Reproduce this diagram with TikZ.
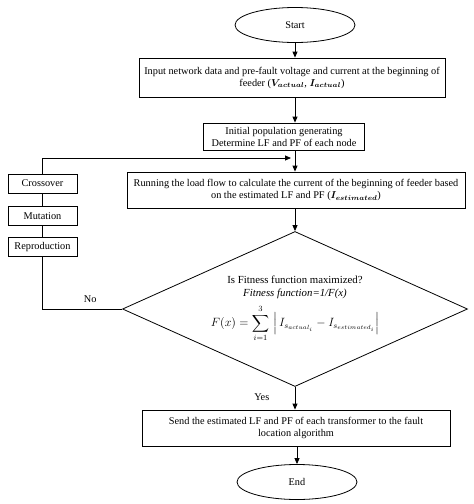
\documentclass[tikz,border=0pt]{standalone}
\usepackage{amsmath}
\usepackage{bm}
\usepackage{fontspec}
\setmainfont{Liberation Serif}
\usepackage{tikz}
\usetikzlibrary{shapes.geometric, arrows.meta, positioning, calc}

\tikzset{
  procbox/.style={draw, line width=0.8pt, align=center, font=\fontsize{10.3}{12}\selectfont, inner sep=2pt},
  termnode/.style={draw, ellipse, line width=0.8pt, minimum width=120pt, minimum height=35pt, font=\fontsize{10.3}{12}\selectfont},
  gabox/.style={procbox, minimum width=69pt, minimum height=19pt},
  decnode/.style={draw, diamond, line width=0.8pt, aspect=2.2, inner sep=0pt, minimum width=345pt, minimum height=155pt, align=center, font=\fontsize{10.8}{13}\selectfont},
  arr/.style={-{Triangle[length=6pt, width=5pt]}, line width=0.8pt},
  link/.style={line width=0.8pt}
}

\begin{document}
\begin{tikzpicture}[x=1pt, y=1pt]
    \useasboundingbox (0,0) rectangle (474,-504);

    % main column
    \node[termnode] (start) at (295,-25) {Start};
    \node[procbox, minimum width=306pt, minimum height=39pt] (input) at (292,-77.5)
      {Input network data and pre-fault voltage and current at the beginning of\\
       feeder ($\bm{V_{actual}}$, $\bm{I_{actual}}$)};
    \node[procbox, minimum width=161pt, minimum height=27pt] (init) at (284,-136.5)
      {Initial population generating\\ Determine LF and PF of each node};
    \node[procbox, minimum width=338pt, minimum height=36pt] (run) at (296,-190)
      {Running the load flow to calculate the current of the beginning of feeder based\\
       on the estimated LF and PF ($\bm{I_{estimated}}$)};
    \node[decnode] (dec) at (295,-309)
      {Is Fitness function maximized?\\
       \textit{Fitness function=1/F(x)}\\[5pt]
       {\fontsize{12}{14}\selectfont $F(x)=\displaystyle\sum_{i=1}^{3}\,\left|\,I_{s_{actual_i}}-I_{s_{estimated_i}}\right|$}};
    \node[procbox, minimum width=308pt, minimum height=36pt] (send) at (296,-428)
      {Send the estimated LF and PF of each transformer to the fault\\ location algorithm};
    \node[termnode] (end) at (297,-482) {End};

    % genetic operators
    \node[gabox] (cross) at (42.5,-183.5) {Crossover};
    \node[gabox] (mut) at (42.5,-216) {Mutation};
    \node[gabox] (repro) at (42.5,-247) {Reproduction};
    \coordinate (merge) at (295,-158);

    \draw[arr] (start) -- (start |- input.north);
    \draw[arr] (input.south -| start) -- (init.north -| start);
    \draw[arr] (init.south -| start) -- (run.north -| start);
    \draw[arr] (run.south -| dec) -- (dec.north);
    \draw[arr] (dec.south) -- (send.north -| dec) node[pos=0.45, left=22pt] {\fontsize{10.3}{12}\selectfont Yes};
    \draw[arr] (send.south -| end) -- (end.north);

    \draw[link] (cross) -- (mut);
    \draw[link] (mut) -- (repro);
    \draw[link] (repro.south) |- (dec.west) node[pos=0.8, above=3pt] {\fontsize{10.3}{12}\selectfont No};
    \draw[arr] (cross.north) |- ([xshift=-4pt]merge);
\end{tikzpicture}
\end{document}
